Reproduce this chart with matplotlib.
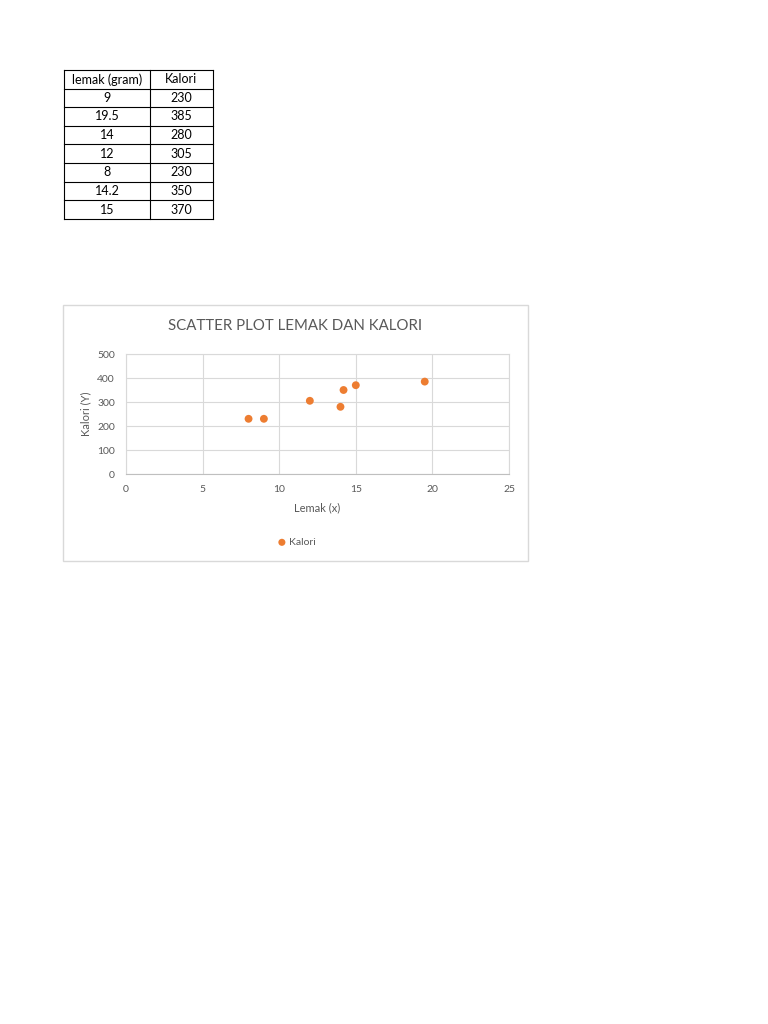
import matplotlib.pyplot as plt
import numpy as np

lemak = [9, 19.5, 14, 12, 8, 14.2, 15]
kalori = [230, 385, 280, 305, 230, 350, 370]
lemak_labels = ["9", "19.5", "14", "12", "8", "14.2", "15"]
kalori_labels = ["230", "385", "280", "305", "230", "350", "370"]
table_header = ["lemak (gram)", "Kalori"]
x_ticks = [0, 5, 10, 15, 20, 25]
y_ticks = [0, 100, 200, 300, 400, 500]

W, H = 768, 1024
ORANGE = "#ED7D31"
GRID = "#D9D9D9"
TEXT = "#595959"
FONT = ["Lato", "DejaVu Sans"]

plt.rcParams["font.family"] = FONT

fig = plt.figure(figsize=(W / 100, H / 100), dpi=100)
fig.patch.set_facecolor("white")

# overlay in pixel coordinates for the table and chart frame
page = fig.add_axes([0, 0, 1, 1])
page.set_xlim(0, W)
page.set_ylim(H, 0)
page.axis("off")

# --- table ---
col_x = [64, 150, 213]
row_top, row_h = 70, 18.6
n_rows = len(lemak) + 1
for i in range(n_rows + 1):
    y = row_top + i * row_h
    page.plot([col_x[0], col_x[-1]], [y, y], color="black", lw=0.8)
for x in col_x:
    page.plot([x, x], [row_top, row_top + n_rows * row_h], color="black", lw=0.8)

rows = [table_header] + [[a, b] for a, b in zip(lemak_labels, kalori_labels)]
for i, (a, b) in enumerate(rows):
    yc = row_top + (i + 0.5) * row_h
    page.text((col_x[0] + col_x[1]) / 2, yc, a, ha="center", va="center", fontsize=9, color="black")
    page.text((col_x[1] + col_x[2]) / 2, yc, b, ha="center", va="center", fontsize=9, color="black")

# --- chart frame ---
page.add_patch(plt.Rectangle((63, 305), 465, 256, fill=False, edgecolor=GRID, lw=1))
page.text(295, 326, "SCATTER PLOT LEMAK DAN KALORI", ha="center", va="center", fontsize=10.8, color=TEXT)

# --- scatter ---
left, right, top, bottom = 126, 509, 354, 474
ax = fig.add_axes([left / W, 1 - bottom / H, (right - left) / W, (bottom - top) / H])
ax.scatter(lemak, kalori, s=32, color=ORANGE, edgecolors="none", zorder=3, label="Kalori")
ax.set_xlim(0, 25)
ax.set_ylim(0, 500)
ax.set_xticks(x_ticks)
ax.set_yticks(y_ticks)
ax.grid(True, color=GRID, lw=0.8)
ax.set_axisbelow(True)
for side in ["top", "right", "left"]:
    ax.spines[side].set_color(GRID)
    ax.spines[side].set_linewidth(0.8)
ax.spines["bottom"].set_color("#BFBFBF")
ax.spines["bottom"].set_linewidth(0.8)
ax.tick_params(length=0, labelsize=7.5, labelcolor=TEXT, pad=8)
ax.set_xlabel("Lemak (x)", fontsize=8, color=TEXT, labelpad=6)
ax.set_ylabel("Kalori (Y)", fontsize=8, color=TEXT, labelpad=4)

ax.legend(loc="center", bbox_to_anchor=(0.446, -0.57), frameon=False, fontsize=7.5,
          labelcolor=TEXT, handlelength=0.8, handletextpad=0.3, markerscale=0.9)

fig.savefig("out.png", dpi=100)
